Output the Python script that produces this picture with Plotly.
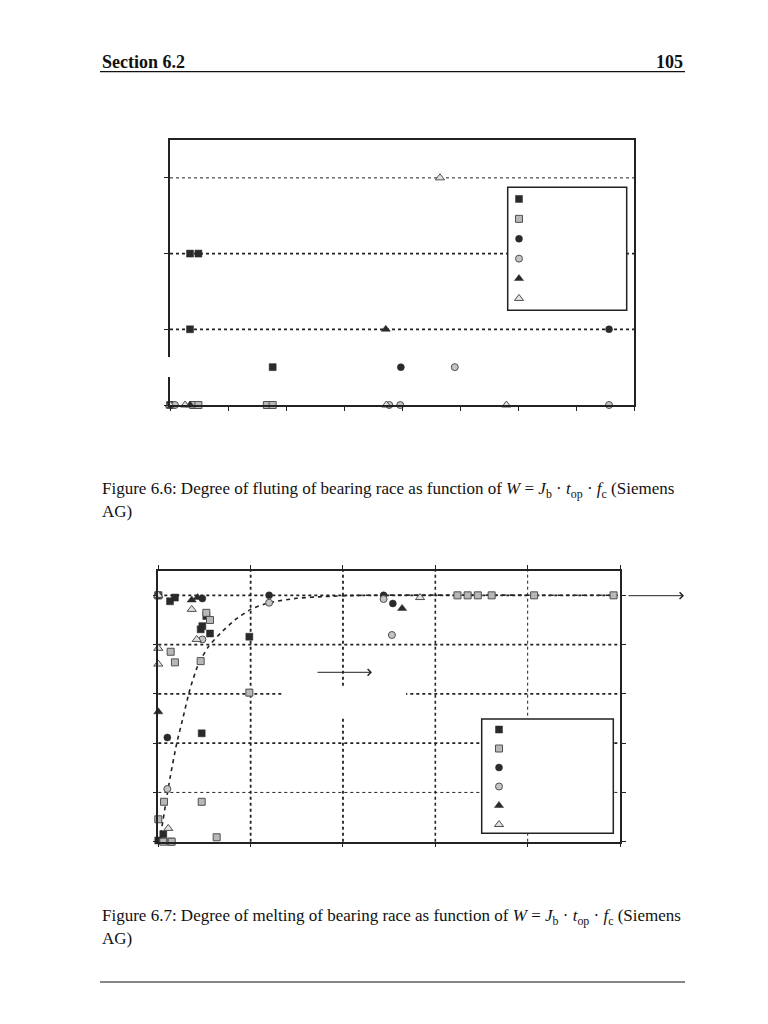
"""
Page 105, section 6.2: fluting (Fig. 6.6) and melting (Fig. 6.7) of bearing race vs W.
Two scatter charts drawn on one 768x1024 page.
"""
import plotly.graph_objects as go

# page is 768x1024; the html body has an 8px margin, so the figure sits inside it
OFF = 8
FW, FH = 768 - 2 * OFF, 1024 - 2 * OFF

# ----- Figure 6.6 data: degree of fluting -----
flu_sq_dark_x = [0.0, 0.345, 0.49, 0.345, 1.77]
flu_sq_dark_y = [0, 2, 2, 1, 0.5]
flu_sq_light_x = [0.4, 0.49, 1.67, 1.77]
flu_sq_light_y = [0, 0, 0, 0]
flu_ci_dark_x = [0.02, 3.98, 7.57]
flu_ci_dark_y = [0, 0.5, 1]
flu_ci_light_x = [0.086, 3.78, 3.97, 4.91, 7.57]
flu_ci_light_y = [0, 0, 0, 0.5, 0]
flu_tr_dark_x = [0.345, 3.72]
flu_tr_dark_y = [0, 1]
flu_tr_light_x = [0.0, 0.26, 3.73, 4.655, 5.8]
flu_tr_light_y = [0, 0, 0, 3, 0]

# ----- Figure 6.7 data: degree of melting (%) -----
mel_sq_dark_x = [0, 0.0, 0.054, 0.127, 0.18, 0.459, 0.477, 0.52, 0.56, 0.986, 0.47]
mel_sq_dark_y = [100, 0.5, 3, 97.6, 99.1, 86.2, 87.5, 91.6, 84.5, 83.2, 44]
mel_sq_light_x = [0, 0.134, 0.18, 0.52, 0.56, 0.459, 0.986, 0.062, 0.0, 0.47, 0.632,
                  0.054, 0.134, 0.145, 3.24, 3.35, 3.46, 3.61, 4.07, 4.93]
mel_sq_light_y = [100, 77.1, 72.8, 92.9, 90, 73.3, 60.5, 16.2, 9.1, 16.2, 1.8,
                  0, 0, 0, 100, 100, 100, 100, 100, 100]
mel_ci_dark_x = [0, 0.477, 1.2, 0.098, 2.44, 2.54]
mel_ci_dark_y = [100, 98.7, 100, 42.3, 100, 96.7]
mel_ci_light_x = [0.477, 1.2, 0.098, 2.44, 2.53]
mel_ci_light_y = [82.1, 97, 21.4, 98.5, 83.9]
mel_tr_dark_x = [0, 0.362, 0.426, 0.0, 2.64]
mel_tr_dark_y = [100, 98.1, 99.1, 52.7, 94.7]
mel_tr_light_x = [0, 0.362, 0.416, 0.0, 0.0, 0.108, 2.835]
mel_tr_light_y = [100, 94.3, 82.1, 78.5, 72.1, 5.4, 99.1]

# fitted trend (dashed)
fit_x = [0, 0.02, 0.05, 0.08, 0.13, 0.2, 0.27, 0.34, 0.43, 0.54, 0.67, 0.83,
         1.0, 1.2, 1.5, 1.8, 2.2, 5.0]
fit_y = [0, 2, 8.5, 15.5, 26.5, 40, 50.7, 61.5, 71.7, 79, 84.5, 90,
         94.3, 97, 98.8, 99.5, 100, 100]

# gridlines: (value, line width) -- some are printed heavier than others
flu_hgrid = [(1, 1.7), (2, 1.7), (3, 1.0)]
mel_hgrid = [(20, 1.0), (40, 1.7), (60, 1.7), (80, 1.7), (100, 1.7)]
mel_vgrid = [(1, 1.8), (2, 1.8), (3, 1.6), (4, 1.0)]

# ----- marker styles -----
DARK = '#2a2a2a'
EDGE = '#505050'
styles = {
    'sq_dark': dict(symbol='square', size=7, color=DARK, line=dict(color=DARK, width=0.5)),
    'sq_light': dict(symbol='square', size=7, color='#b8b8b8', line=dict(color=EDGE, width=1)),
    'ci_dark': dict(symbol='circle', size=7, color=DARK, line=dict(color=DARK, width=0.5)),
    'ci_light': dict(symbol='circle', size=7, color='#c4c4c4', line=dict(color=EDGE, width=1)),
    'tr_dark': dict(symbol='triangle-up', size=8, color=DARK, line=dict(color=DARK, width=0.5)),
    'tr_light': dict(symbol='triangle-up', size=8, color='#e2e2e2', line=dict(color=EDGE, width=1)),
}


def fx(x):
    return (x - OFF) / FW


def fy(y):
    return 1 - (y - OFF) / FH


fig = go.Figure()

flu_series = [
    ('sq_dark', flu_sq_dark_x, flu_sq_dark_y),
    ('sq_light', flu_sq_light_x, flu_sq_light_y),
    ('ci_dark', flu_ci_dark_x, flu_ci_dark_y),
    ('ci_light', flu_ci_light_x, flu_ci_light_y),
    ('tr_dark', flu_tr_dark_x, flu_tr_dark_y),
    ('tr_light', flu_tr_light_x, flu_tr_light_y),
]
for key, xs, ys in flu_series:
    fig.add_trace(go.Scatter(x=xs, y=ys, mode='markers', name='', marker=styles[key],
                             cliponaxis=False, xaxis='x', yaxis='y', legend='legend'))

fig.add_trace(go.Scatter(x=fit_x, y=fit_y, mode='lines', name='', showlegend=False,
                         line=dict(color='#222', width=1.6, dash='4px,4px', shape='spline', smoothing=0.6),
                         xaxis='x2', yaxis='y2'))

mel_series = [
    ('sq_dark', mel_sq_dark_x, mel_sq_dark_y),
    ('sq_light', mel_sq_light_x, mel_sq_light_y),
    ('ci_dark', mel_ci_dark_x, mel_ci_dark_y),
    ('ci_light', mel_ci_light_x, mel_ci_light_y),
    ('tr_dark', mel_tr_dark_x, mel_tr_dark_y),
    ('tr_light', mel_tr_light_x, mel_tr_light_y),
]
for key, xs, ys in mel_series:
    fig.add_trace(go.Scatter(x=xs, y=ys, mode='markers', name='', marker=styles[key],
                             cliponaxis=False, xaxis='x2', yaxis='y2', legend='legend2'))

axis_common = dict(showline=True, linecolor='#222', linewidth=1.5, ticks='outside',
                   tickcolor='#222', tickwidth=1.2, ticklen=4, showticklabels=False,
                   zeroline=False, showgrid=False)

# chart frames (pixel positions on the page)
c1 = dict(l=170, r=634, t=140, b=405)
c2 = dict(l=158.3, r=620, t=570.7, b=841.7)

fig.update_layout(
    width=FW, height=FH, margin=dict(l=0, r=0, t=0, b=0),
    paper_bgcolor='white', plot_bgcolor='white',
    font=dict(family='Liberation Serif', color='#111'),
    xaxis=dict(domain=[fx(c1['l']), fx(c1['r'])], range=[0, 8], dtick=1,
               mirror=True, anchor='y', **axis_common),
    yaxis=dict(domain=[fy(c1['b']), fy(c1['t'])], range=[0, 3.5], dtick=1,
               mirror=True, anchor='x', **axis_common),
    xaxis2=dict(domain=[fx(c2['l']), fx(c2['r'])], range=[0, 5], dtick=1,
                mirror='ticks', anchor='y2', **axis_common),
    yaxis2=dict(domain=[fy(c2['b']), fy(c2['t'])], range=[0, 110], dtick=20,
                mirror='ticks', anchor='x2', **axis_common),
    legend=dict(x=fx(499), y=fy(184), xanchor='left', yanchor='top',
                bgcolor='rgba(0,0,0,0)', borderwidth=0, font=dict(size=13)),
    legend2=dict(x=fx(479), y=fy(715), xanchor='left', yanchor='top',
                 bgcolor='rgba(0,0,0,0)', borderwidth=0, font=dict(size=10)),
)

shapes = []
# gridlines
for v, w in flu_hgrid:
    shapes.append(dict(type='line', xref='x domain', yref='y', x0=0, x1=1, y0=v, y1=v,
                       line=dict(color='#222', width=w, dash='dot'), layer='below'))
for v, w in mel_hgrid:
    shapes.append(dict(type='line', xref='x2 domain', yref='y2', x0=0, x1=1, y0=v, y1=v,
                       line=dict(color='#222', width=w, dash='dot'), layer='below'))
for v, w in mel_vgrid:
    shapes.append(dict(type='line', xref='x2', yref='y2 domain', x0=v, x1=v, y0=0, y1=1,
                       line=dict(color='#222', width=w, dash='dot'), layer='below'))
# legend boxes
for (x0, y0, x1, y1) in [(507.7, 187.3, 626.7, 310.3), (481.7, 719, 613.3, 833.3)]:
    shapes.append(dict(type='rect', xref='paper', yref='paper', x0=fx(x0), y0=fy(y1),
                       x1=fx(x1), y1=fy(y0), fillcolor='white',
                       line=dict(color='#222', width=1.5), layer='above'))
# blank gaps left in the scan (removed labels)
for (x0, y0, x1, y1) in [(283, 687, 406, 718), (165, 357, 175, 377)]:
    shapes.append(dict(type='rect', xref='paper', yref='paper', x0=fx(x0), y0=fy(y1),
                       x1=fx(x1), y1=fy(y0), fillcolor='white', line=dict(width=0),
                       layer='above'))
# page rules
for y in [71.7, 982]:
    shapes.append(dict(type='line', xref='paper', yref='paper', x0=fx(100), x1=fx(685),
                       y0=fy(y), y1=fy(y), line=dict(color='#111', width=1.2)))
fig.update_layout(shapes=shapes)

ann = []
ann.append(dict(text='<b>Section 6.2</b>', x=fx(100), y=fy(62), xanchor='left', yanchor='middle',
                font=dict(size=18)))
ann.append(dict(text='<b>105</b>', x=fx(685), y=fy(62), xanchor='right', yanchor='middle',
                font=dict(size=18)))
formula = '<i>W</i> = <i>J</i><sub>b</sub> · <i>t</i><sub>op</sub> · <i>f</i><sub>c</sub>'
captions = [
    (490, f'Figure 6.6: Degree of fluting of bearing race as function of {formula} (Siemens'),
    (511, 'AG)'),
    (917, f'Figure 6.7: Degree of melting of bearing race as function of {formula} (Siemens'),
    (938, 'AG)'),
]
for y, t in captions:
    ann.append(dict(text=t, x=fx(100), y=fy(y), xanchor='left', yanchor='middle',
                    font=dict(size=17)))
for a in ann:
    a.update(xref='paper', yref='paper', showarrow=False)

# arrows in Fig. 6.7
for (xt, xh, y) in [(627, 684, 595.7), (316, 372, 672.3)]:
    ann.append(dict(x=fx(xh), y=fy(y), xref='paper', yref='paper', ax=xt - xh, ay=0,
                    text='', showarrow=True, arrowhead=4, arrowsize=1.3, arrowwidth=1,
                    arrowcolor='#222'))
fig.update_layout(annotations=ann)

fig.write_html("out.html")
